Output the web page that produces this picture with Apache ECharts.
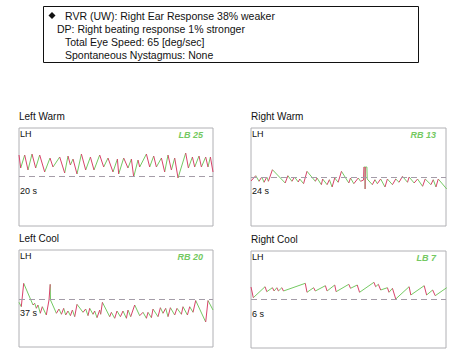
<!DOCTYPE html>
<html><head><meta charset="utf-8">
<script src="https://cdn.jsdelivr.net/npm/echarts@6/dist/echarts.min.js"></script>
<style>html,body{margin:0;padding:0;background:#fff}#c{width:465px;height:364px}</style>
</head><body><div id="c"></div>
<script>
// ---- summary box text ----
const summaryLines = [
  'RVR (UW): Right Ear Response 38% weaker',
  'DP: Right beating response 1% stronger',
  'Total Eye Speed: 65 [deg/sec]',
  'Spontaneous Nystagmus: None'
];
// ---- panel labels ----
const panelTitles = ['Left Warm', 'Right Warm', 'Left Cool', 'Right Cool'];
const channelLabels = ['LH', 'LH', 'LH', 'LH'];
const durationLabels = ['20 s', '24 s', '37 s', '6 s'];
const beatLabels = ['LB 25', 'RB 13', 'RB 20', 'LB 7'];

// ---- traces: time (arbitrary units) and eye position relative to baseline ----
const leftWarmT = [0,1.7,5.7,9,13,16.7,20.7,25.7,31,34,40.7,45.7,49,51.4,54,58,62.4,66.7,71.4,75,80.7,84.7,89,94,98.4,99.7,104.7,109,112.4,114.7,119,120.7,127.4,130.7,134.7,137.4,142.4,145.7,149,152.4,155.7,159,166.7,169.4,173.4,175.7,180,182.4,186.7,189,191.4,194];
const leftWarmV = [21,8,21,6,22,8,21,4,18,9,19,3,20,11,17,2,22,6,19,6,21,9,18,4,17,2,18,8,17,-1,16,9,22,9,20,9,18,4,21,6,18,-2,23,8,19,9,20,9,19,9,19,4];

const rightWarmT = [0,4.7,8,10.7,13,15.7,17.3,21.3,34,36.7,40.7,43.3,47,48.5,52.3,55.7,64,65.7,70,71.3,75.7,78,80.7,83.3,86.7,90,97.3,99,102.3,106.7,109,112,112.3,113.3,113.5,113.7,115.3,115.6,120.7,123.3,125.7,129,133.3,135.7,140.7,144,147.3,150.7,155.7,157.3,162.3,165.7,170.7,173.3,179,181.3,184,186.3,194.7];
const rightWarmV = [-4,1.3,-4.3,0,-5.3,0,-4.3,7.3,-6,1.3,-4.3,0,-5,-2,-6.7,5.7,-4.3,-1,-7.7,-2,-7.7,-2.7,-10,-1,-5.3,5.7,-6,-1,-6.7,-1,-4.3,-3,10,10,-12,10,10,-2,-7.7,-2.7,-6.7,-2,-10,-2,-7.7,-2,-5.3,0.7,-5.3,0,-6,-2,-9.3,-2,-7.7,-2.7,-10,-2,-12];

const leftCoolT = [0,2.3,4.7,14,15.7,17.3,19,21.3,23.3,27.3,30,31.2,31.5,37.4,40,42.4,44.7,46.7,49,51.4,53.4,55.7,58,64,66.7,69,70.7,74,75.7,78,80.7,81.7,83.4,90.7,92.4,95.7,98,101.4,104,107.4,109,111.7,115.7,120.7,124,127.4,129,132.4,134,139,141.4,144,146.7,149,151.4,155.7,158,162.4,164,168.4,170.7,174,176.7,186.7,189,194];
const leftCoolV = [-3.3,-7.7,15.7,-6,-4.3,-9.3,-6,-14.3,-7.7,-16,-1,14.7,-1,-14.3,-10,-15.3,-9.3,-16,-12,-16.7,-11,-17.7,-5.3,-13.3,-10,-16.7,-9.3,-15.3,-12,-18.7,-11,-15.3,-3.3,-17.7,-13.3,-19.3,-12,-17.7,-12,-19.3,-11,-17.7,-6,-16.7,-13.3,-19.3,-13.3,-18.7,-10,-17.7,-8.7,-14.3,-9.3,-17.7,-8.7,-16,-9.3,-15.3,-7.7,-16,-7.7,-13.3,-1.5,-23,-1.5,-11];

const rightCoolT = [0,2.3,14,15.7,21.3,23,25.7,27.3,30.7,32.3,54,55.7,62.3,64,74,75.7,83.3,84.7,97.3,99,105.7,108,122.3,124,126.7,129,135.7,137.3,140.7,144,157.3,159,172.3,174.7,180.7,183.3,194.7];
const rightCoolV = [12,1.3,12.3,7.3,11.3,8,11.3,8,11.3,8,15.7,6.7,11.3,8,13.3,8,14,7.3,14.7,10.7,14,6.7,16.7,12.3,14.7,9,11.3,6.7,10.7,0,12.3,4,13.3,4,9,3.3,11.3];

const traceT = [leftWarmT, rightWarmT, leftCoolT, rightCoolT];
const traceV = [leftWarmV, rightWarmV, leftCoolV, rightCoolV];

// ---- layout (positions/styles) ----
const grids = [
  {left: 19, top: 128, width: 194, height: 98, ymin: -50, ymax: 48},
  {left: 251, top: 128, width: 195, height: 98, ymin: -49, ymax: 49},
  {left: 19, top: 250, width: 194, height: 97, ymin: -48, ymax: 49},
  {left: 251, top: 251, width: 195, height: 97, ymin: -49, ymax: 48}
];
const GREEN = '#74c962', RED = '#d8426a', FONT = '"Liberation Sans", Arial, sans-serif';

const option = {
  animation: false,
  backgroundColor: '#fff',
  grid: [], xAxis: [], yAxis: [], series: [], graphic: []
};

grids.forEach((g, i) => {
  option.grid.push({left: g.left, top: g.top, width: g.width, height: g.height,
    show: true, borderColor: '#b0b0b4', borderWidth: 1, backgroundColor: 'transparent'});
  option.xAxis.push({type: 'value', gridIndex: i, min: 0, max: 194, show: false});
  option.yAxis.push({type: 'value', gridIndex: i, min: g.ymin, max: g.ymax, show: false});
  const t = traceT[i], v = traceV[i];
  const leftBeating = beatLabels[i].startsWith('LB');
  const slow = [], fast = [];
  for (let k = 0; k < t.length - 1; k++) {
    const rising = v[k + 1] > v[k];
    const isFast = leftBeating ? !rising : rising;
    const arr = isFast ? fast : slow;
    arr.push([t[k], v[k]], [t[k + 1], v[k + 1]], [t[k + 1], '-']);
  }
  option.series.push({
    type: 'line', xAxisIndex: i, yAxisIndex: i, data: slow, symbol: 'none',
    lineStyle: {color: GREEN, width: 1}, connectNulls: false, silent: true, z: 3,
    markLine: {silent: true, symbol: ['none', 'none'], label: {show: false},
      lineStyle: {color: '#a49ca8', type: [6, 4], width: 1}, data: [{yAxis: 0}]}
  });
  option.series.push({
    type: 'line', xAxisIndex: i, yAxisIndex: i, data: fast, symbol: 'none',
    lineStyle: {color: RED, width: 1}, connectNulls: false, silent: true, z: 4
  });
  // texts
  option.graphic.push({type: 'text', left: g.left, top: g.top - 17,
    style: {text: panelTitles[i], font: '10px ' + FONT, fill: '#111'}});
  option.graphic.push({type: 'text', left: g.left + 1, top: g.top + 1,
    style: {text: channelLabels[i], font: '9px ' + FONT, fill: '#111'}});
  option.graphic.push({type: 'text', left: g.left + 1, top: g.top + 58,
    style: {text: durationLabels[i], font: '9px ' + FONT, fill: '#111'}});
  option.graphic.push({type: 'text', right: 465 - (g.left + g.width) + 10, top: g.top + 2,
    style: {text: beatLabels[i], font: 'italic bold 9px ' + FONT, fill: GREEN}});
});

// summary box
option.graphic.push({type: 'rect', shape: {x: 43.5, y: 6.5, width: 375, height: 56},
  style: {fill: '#fff', stroke: '#111', lineWidth: 1}, z: 0});
option.graphic.push({type: 'polygon', shape: {points: [[52, 12], [55.5, 15.5], [52, 19], [48.5, 15.5]]},
  style: {fill: '#111'}});
const textX = [65, 57, 65, 65];
summaryLines.forEach((s, k) => {
  option.graphic.push({type: 'text', left: textX[k], top: 10 + k * 13.1,
    style: {text: s, font: '10.5px ' + FONT, fill: '#111'}});
});

const chart = echarts.init(document.getElementById('c'), null, {renderer: 'svg'});
chart.setOption(option);
</script></body></html>
